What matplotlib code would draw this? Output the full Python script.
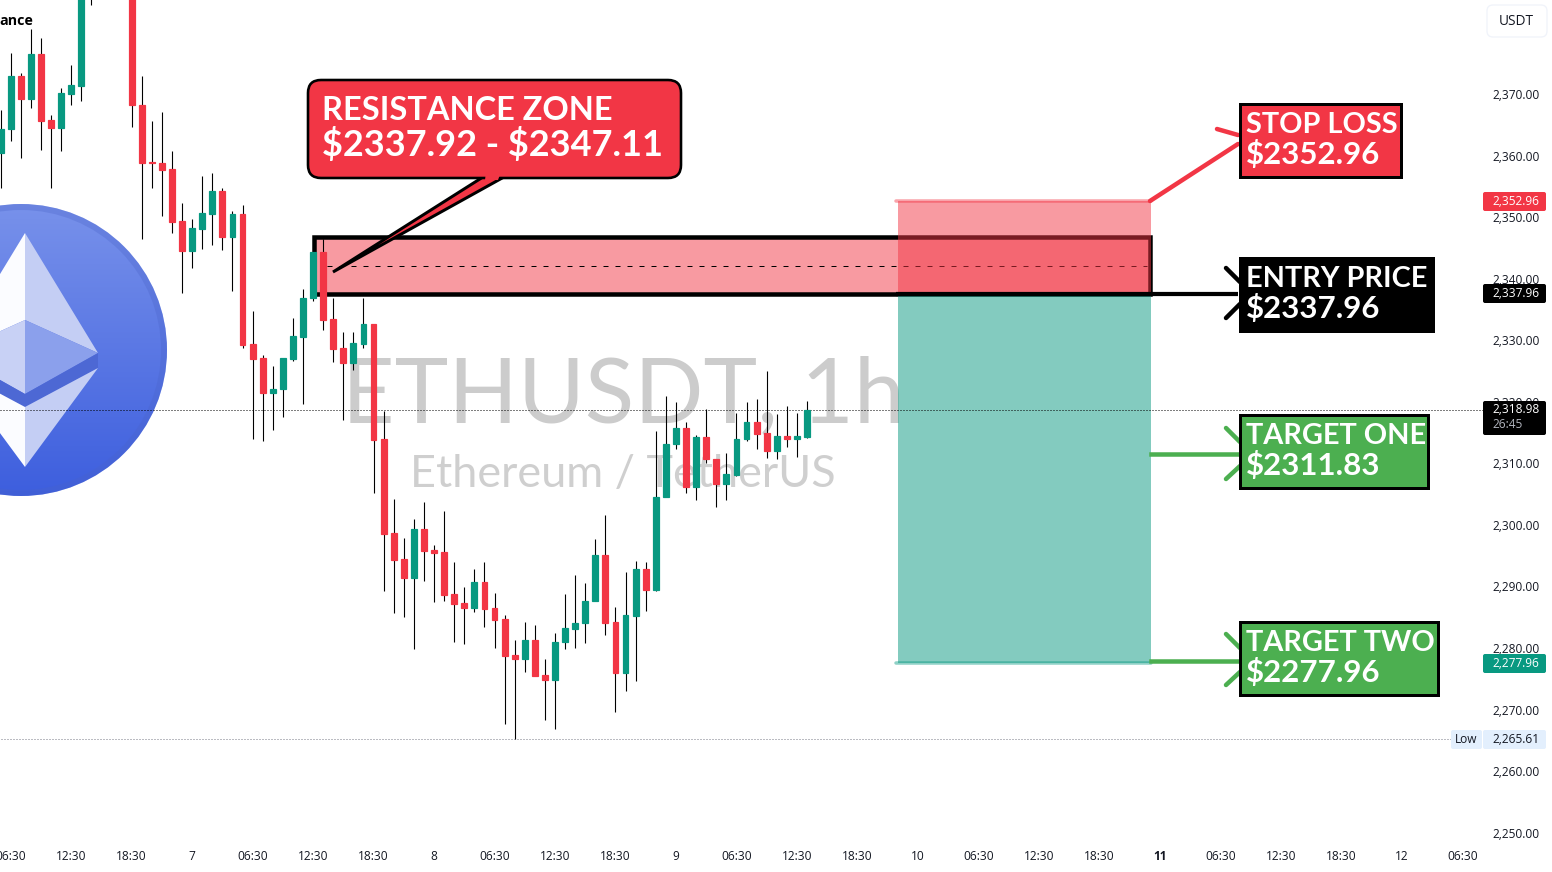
import matplotlib
matplotlib.use("Agg")
import matplotlib.pyplot as plt
import numpy as np

from matplotlib.patches import Circle, FancyBboxPatch, Polygon, Rectangle
from matplotlib.transforms import Affine2D, ScaledTranslation

WIDTH, HEIGHT = 1552, 872

# hourly candles, index 0 is the one cut by the left edge (10-12 are above the view)
candle_index = list(range(10)) + list(range(13, 81))
opens = [2360.48, 2364.38, 2372.99, 2369.26, 2376.57, 2365.84, 2364.54, 2370.07, 2371.37, 2388.59,
         2386.96, 2368.28, 2359.02, 2358.86, 2357.88, 2349.43, 2344.56, 2348.13, 2350.57, 2354.31,
         2346.83, 2350.57, 2329.45, 2327.18, 2321.49, 2322.14, 2327.01, 2330.59, 2336.92, 2344.40,
         2333.51, 2328.80, 2326.36, 2329.45, 2332.70, 2314.02, 2298.74, 2294.52, 2291.43, 2299.39,
         2295.98, 2295.66, 2288.83, 2287.37, 2286.56, 2290.78, 2286.56, 2284.77, 2278.92, 2278.27,
         2281.36, 2275.67, 2274.86, 2281.03, 2283.15, 2284.12, 2287.70, 2295.17, 2284.28, 2276.00,
         2285.26, 2292.89, 2289.48, 2304.59, 2313.20, 2315.80, 2306.22, 2314.34, 2310.77, 2306.70,
         2308.17, 2314.02, 2316.78, 2314.99, 2312.07, 2314.50, 2314.02, 2314.34]
closes = [2364.38, 2372.99, 2369.26, 2376.57, 2365.68, 2364.54, 2370.23, 2371.53, 2388.59, 2395.09,
          2368.28, 2358.86, 2358.86, 2357.72, 2349.27, 2344.56, 2348.30, 2350.73, 2354.31, 2346.83,
          2350.57, 2329.29, 2327.01, 2321.49, 2322.14, 2327.18, 2330.75, 2336.92, 2344.40, 2333.35,
          2328.64, 2326.36, 2329.61, 2332.70, 2313.85, 2298.58, 2294.36, 2291.43, 2299.39, 2295.82,
          2295.49, 2288.67, 2287.21, 2286.56, 2290.78, 2286.40, 2284.61, 2278.76, 2278.27, 2281.36,
          2275.51, 2274.86, 2281.03, 2283.31, 2284.12, 2287.70, 2295.17, 2284.12, 2276.00, 2285.42,
          2292.89, 2289.48, 2304.59, 2313.20, 2315.80, 2306.22, 2314.34, 2310.77, 2306.70, 2308.33,
          2314.02, 2316.78, 2314.83, 2312.07, 2314.50, 2314.02, 2314.50, 2318.73]
highs = [2367.47, 2376.73, 2373.48, 2380.63, 2379.17, 2366.66, 2371.04, 2374.78, 2390.21, 2398.34,
         2390.21, 2372.99, 2365.68, 2367.14, 2360.81, 2352.36, 2349.76, 2356.75, 2357.23, 2354.80,
         2351.06, 2352.03, 2334.81, 2327.66, 2325.88, 2327.18, 2333.67, 2338.39, 2344.40, 2346.51,
         2336.92, 2331.40, 2331.40, 2336.92, 2332.70, 2318.56, 2304.27, 2297.93, 2301.02, 2303.78,
         2296.79, 2302.32, 2294.03, 2289.97, 2292.89, 2294.03, 2289.00, 2285.42, 2281.36, 2284.28,
         2283.80, 2278.27, 2282.50, 2288.83, 2291.92, 2290.62, 2297.77, 2301.67, 2286.72, 2292.41,
         2294.19, 2294.03, 2315.32, 2321.00, 2320.03, 2316.78, 2314.67, 2318.89, 2310.77, 2311.74,
         2318.24, 2320.03, 2320.51, 2325.06, 2318.08, 2319.38, 2318.24, 2320.19]
lows = [2354.80, 2362.43, 2359.67, 2367.79, 2360.97, 2354.80, 2360.81, 2368.28, 2368.93, 2384.53,
        2364.71, 2346.51, 2354.80, 2350.25, 2347.48, 2337.74, 2341.80, 2344.88, 2345.53, 2344.72,
        2338.06, 2328.80, 2314.02, 2313.69, 2315.48, 2317.59, 2326.69, 2319.70, 2336.44, 2331.72,
        2326.53, 2317.10, 2325.23, 2328.80, 2305.24, 2289.32, 2285.75, 2285.10, 2279.90, 2290.94,
        2287.53, 2287.70, 2281.03, 2280.71, 2285.91, 2283.47, 2280.06, 2267.71, 2265.27, 2276.16,
        2275.51, 2268.36, 2266.90, 2279.90, 2280.06, 2280.87, 2287.70, 2282.17, 2269.66, 2273.07,
        2274.70, 2286.07, 2289.32, 2304.59, 2312.39, 2305.24, 2304.10, 2310.12, 2302.97, 2304.10,
        2308.00, 2313.69, 2312.39, 2310.93, 2310.77, 2312.72, 2311.09, 2314.18]
# tick labels sit about 2px above their true level, the candles were read against them
READ_OFFSET = 0.33

price_ticks = [2250, 2260, 2270, 2280, 2290, 2300, 2310, 2320, 2330, 2340, 2350, 2360, 2370]
time_ticks = list(range(1, 146, 6))
time_labels = ["06:30", "12:30", "18:30", "7", "06:30", "12:30", "18:30", "8", "06:30", "12:30",
               "18:30", "9", "06:30", "12:30", "18:30", "10", "06:30", "12:30", "18:30", "11",
               "06:30", "12:30", "18:30", "12", "06:30"]

stop_price = 2352.96
entry_price = 2337.96
target_one = 2311.83
target_two = 2277.96
zone_low, zone_high = 2337.92, 2347.11
last_price = 2318.98
low_price = 2265.61

RED = "#f23645"
TEAL = "#089981"
GREEN = "#4caf50"
INK = "#131722"
UI_FONT = "Open Sans"
CALLOUT_FONT = "Lato"
# Lato capitals run wider than the reference's face, so word lines are set smaller than prices
WORD_SIZE = 20.8
PRICE_SIZE = 22.5

# pixel space of the figure, y going down like the reference
px = Affine2D().scale(1, -1).translate(0, HEIGHT)


def pt(pixels):
    return pixels * 72 / 100


def x_of_pixel(x):
    return (x - 0.6) / 10.08


def price_text(value):
    return "{:,.2f}".format(value)


def draw_logo(ax):
    rows = np.linspace(0, 1, 64)[:, None, None]
    grad = (1 - rows) * np.array([[[0.47, 0.57, 0.92]]]) + rows * np.array([[[0.24, 0.37, 0.87]]])
    image = ax.imshow(grad, extent=(-125, 167, 497, 203), transform=px, aspect="auto",
                      interpolation="bilinear", zorder=0.5)
    disc = Circle((21, 350), 146, transform=px, fc="none", ec="none")
    ax.add_patch(disc)
    image.set_clip_path(disc)
    ax.add_patch(Circle((21, 350), 143, transform=px, fc="none", ec="#4a63c8", lw=pt(6),
                        alpha=0.3, zorder=0.6))
    faces = [
        ([(25, 233), (-48, 353), (25, 320)], "#fbfcff"),
        ([(25, 233), (98, 353), (25, 320)], "#c4cef4"),
        ([(25, 320), (-48, 353), (25, 394)], "#c8d1f5"),
        ([(25, 320), (98, 353), (25, 394)], "#8ba0ec"),
        ([(-48, 353), (25, 394), (98, 353), (98, 368), (25, 407), (-48, 368)], "#4d68d4"),
        ([(25, 407), (-48, 368), (25, 467)], "#fbfcff"),
        ([(25, 407), (98, 368), (25, 467)], "#c4cef4"),
    ]
    for verts, color in faces:
        ax.add_patch(Polygon(verts, closed=True, transform=px, fc=color, ec="none", zorder=0.7))


def draw_candles(ax):
    idx = np.array(candle_index)
    o = np.array(opens) + READ_OFFSET
    c = np.array(closes) + READ_OFFSET
    h = np.array(highs) + READ_OFFSET
    l = np.array(lows) + READ_OFFSET
    colors = [TEAL if cc >= oo else RED for oo, cc in zip(o, c)]
    ax.vlines(idx, l, h, color="black", lw=pt(1.1), zorder=5)
    ax.bar(idx, np.abs(c - o), bottom=np.minimum(o, c), width=0.58, color=colors,
           edgecolor=colors, lw=pt(1.2), zorder=6)


def draw_position(ax):
    left, right = x_of_pixel(898), x_of_pixel(1151)
    line_left = x_of_pixel(896)
    # resistance rectangle goes under the position tool
    zone_left, zone_right = x_of_pixel(313.5), x_of_pixel(1150)
    ax.add_patch(Rectangle((zone_left, zone_low), zone_right - zone_left, zone_high - zone_low,
                           fc=(0.949, 0.212, 0.271, 0.5), ec="black", lw=pt(4.5), zorder=2,
                           joinstyle="miter"))
    ax.plot([x_of_pixel(327), x_of_pixel(1147)], [(zone_low + zone_high) / 2] * 2, color="black",
            lw=pt(1), dashes=(5, 7), zorder=2.5)
    ax.add_patch(Rectangle((left, entry_price), right - left, stop_price - entry_price,
                           fc=RED, alpha=0.5, ec="none", zorder=3))
    ax.add_patch(Rectangle((left, target_two), right - left, entry_price - target_two,
                           fc=TEAL, alpha=0.5, ec="none", zorder=3))
    ax.plot([line_left, right], [stop_price] * 2, color=RED, alpha=0.45, lw=pt(3.5), zorder=3.1,
            solid_capstyle="round")
    ax.plot([line_left, right], [target_two] * 2, color=TEAL, alpha=0.45, lw=pt(3.5), zorder=3.1,
            solid_capstyle="round")


def draw_leaders(ax):
    box_x = x_of_pixel(1238)
    right = x_of_pixel(1151)
    ax.plot([x_of_pixel(896), box_x], [entry_price - 0.1] * 2, color="black", lw=pt(4.2), zorder=4,
            solid_capstyle="butt")
    ax.plot([right, box_x], [target_one] * 2, color=GREEN, lw=pt(4.5), zorder=4)
    ax.plot([right, box_x], [target_two + 0.3] * 2, color=GREEN, lw=pt(4.5), zorder=4)
    stubs = [
        ([(1150, 201), (1238, 144)], RED),
        ([(1217, 129), (1238, 135)], RED),
        ([(1226, 268), (1240, 282)], "black"),
        ([(1226, 318), (1240, 304)], "black"),
        ([(1226, 428), (1240, 442)], GREEN),
        ([(1226, 479), (1240, 466)], GREEN),
        ([(1226, 634), (1240, 648)], GREEN),
        ([(1226, 685), (1240, 672)], GREEN),
    ]
    for points, color in stubs:
        xs, ys = zip(*points)
        ax.plot(xs, ys, transform=px, color=color, lw=pt(4.5), zorder=4, clip_on=False,
                solid_capstyle="round")


def callout_text(ax, x, y, text, size):
    # a plain $ would start mathtext
    ax.text(x, y, text.replace("$", r"\$"), transform=px, color="white", fontsize=size,
            fontweight="bold", family=CALLOUT_FONT, va="baseline", ha="left", zorder=9)


def label_box(ax, x0, x1, y0, fill, line_one, line_two):
    # boxes are all 76px high, border included
    ax.add_patch(Rectangle((x0 + 1.5, y0 + 1.5), x1 - x0 - 3, 73, transform=px, fc=fill, ec="black",
                           lw=pt(3), zorder=8, clip_on=False))
    callout_text(ax, 1246, y0 + 31, line_one, WORD_SIZE)
    callout_text(ax, 1246, y0 + 62, line_two, PRICE_SIZE)


def draw_callouts(ax):
    label_box(ax, 1238, 1402, 102, RED, "STOP LOSS", "$2352.96")
    label_box(ax, 1238, 1434, 256, "black", "ENTRY PRICE", "$2337.96")
    label_box(ax, 1238, 1429, 413, GREEN, "TARGET ONE", "$2311.83")
    label_box(ax, 1238, 1439, 620, GREEN, "TARGET TWO", "$2277.96")

    # speech bubble over the resistance rectangle
    ax.add_patch(Polygon([(483, 177), (504, 177), (333, 272)], closed=True, transform=px, fc=RED,
                         ec="black", lw=pt(3), zorder=7, joinstyle="miter"))
    ax.add_patch(FancyBboxPatch((308, 80), 373, 98, boxstyle="round,pad=0,rounding_size=13",
                                transform=px, fc=RED, ec="black", lw=pt(2.6), zorder=7.1))
    # opens the bubble border where the pointer joins it
    ax.add_patch(Polygon([(486, 172), (501, 172), (498, 180), (485, 180)], closed=True,
                         transform=px, fc=RED, ec="none", zorder=7.2))
    callout_text(ax, 322, 120, "RESISTANCE ZONE", 23.4)
    callout_text(ax, 322, 156, "$2337.92 - $2347.11", 26)


def axis_tag(ax, x0, x1, y0, y1, fill, text, color, zorder=10):
    ax.add_patch(FancyBboxPatch((x0, y0), x1 - x0, y1 - y0, boxstyle="round,pad=0,rounding_size=2",
                                transform=px, fc=fill, ec="none", zorder=zorder, clip_on=False))
    ax.text((1492 if x0 > 1480 else (x0 + x1) / 2), (y0 + y1) / 2 - 0.5, text, transform=px,
            color=color, fontsize=8.6, family=UI_FONT, va="center",
            ha=("left" if x0 > 1480 else "center"), zorder=zorder + 0.1, clip_on=False)


def draw_axis_tags(ax):
    axis_tag(ax, 1483, 1546, 192, 211, RED, price_text(stop_price), "white")
    axis_tag(ax, 1483, 1546, 284, 303, "black", price_text(entry_price), "white")
    axis_tag(ax, 1483, 1546, 654, 673, TEAL, price_text(target_two), "white")
    axis_tag(ax, 1483, 1546, 730, 749, "#e3effd", price_text(low_price), INK)
    axis_tag(ax, 1451, 1482, 730, 749, "#e3effd", "Low", INK)
    axis_tag(ax, 1483, 1546, 401, 435, "black", "", "white")
    ax.text(1492, 409.5, price_text(last_price), transform=px, color="white", fontsize=8.6,
            family=UI_FONT, va="center", zorder=10.2, clip_on=False)
    ax.text(1492, 424.5, "26:45", transform=px, color="#b2b5be", fontsize=8.6,
            family=UI_FONT, va="center", zorder=10.2, clip_on=False)
    ax.add_patch(FancyBboxPatch((1487, 5), 60, 32, boxstyle="round,pad=0,rounding_size=6",
                                transform=px, fc="white", ec="#f0f3fa", lw=pt(1.3), zorder=10,
                                clip_on=False))
    ax.text(1516, 21, "USDT", transform=px, color=INK, fontsize=9.8, family=UI_FONT,
            ha="center", va="center", zorder=10.1, clip_on=False)


def main():
    plt.rcParams["font.family"] = [UI_FONT, "DejaVu Sans"]
    fig = plt.figure(figsize=(WIDTH / 100, HEIGHT / 100), dpi=100, facecolor="white")
    ax = fig.add_axes([0, 31 / HEIGHT, 1483 / WIDTH, 841 / HEIGHT])

    draw_logo(ax)

    ax.text(342, 423, "ETHUSDT, 1h", transform=px, color="#cccccc", fontsize=65.5, family="Lato",
            va="baseline", zorder=1)
    ax.text(410, 487, "Ethereum / TetherUS", transform=px, color="#cfcfcf", fontsize=32.4,
            family="Lato", va="baseline", zorder=1)
    ax.text(-1, 21, "ance", transform=px, color="black", fontsize=10.3, fontweight="bold",
            family=UI_FONT, va="center", zorder=9, clip_on=False)

    ax.axhline(last_price, color="black", lw=pt(1), dashes=(1, 2), zorder=4.5)
    ax.plot([0, x_of_pixel(1451)], [low_price] * 2, color="#787b86", lw=pt(1), dashes=(1, 2),
            zorder=4.5)

    draw_position(ax)
    draw_candles(ax)
    draw_leaders(ax)
    draw_callouts(ax)
    draw_axis_tags(ax)

    ax.set_xlim(x_of_pixel(0), x_of_pixel(1483))
    ax.set_ylim(2249.03, 2385.67)
    for spine in ax.spines.values():
        spine.set_visible(False)

    ax.yaxis.tick_right()
    ax.set_yticks(price_ticks, [price_text(v) for v in price_ticks])
    ax.tick_params(axis="y", length=0, pad=6.5, labelsize=8.6, labelcolor=INK)
    ax.set_xticks(time_ticks, time_labels)
    ax.tick_params(axis="x", length=0, pad=6.2, labelsize=8.6, labelcolor=INK)
    # nudge the price labels back up to where the platform draws them
    nudge = ScaledTranslation(0, 1.7 / 72, fig.dpi_scale_trans)
    for tick in ax.yaxis.get_major_ticks():
        tick.label2.set_transform(tick.label2.get_transform() + nudge)
    for label in ax.get_xticklabels():
        if label.get_text() == "11":
            label.set_fontweight("bold")

    fig.savefig("out.png", dpi=100, facecolor="white")


if __name__ == "__main__":
    main()
